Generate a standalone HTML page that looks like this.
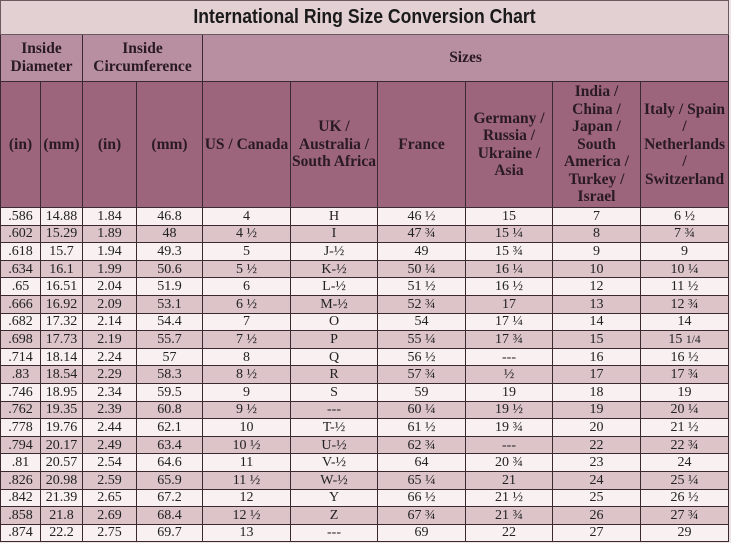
<!DOCTYPE html>
<html><head><meta charset="utf-8"><style>
html,body{margin:0;padding:0;width:731px;height:543px;overflow:hidden;background:#ece4e6}
table{position:absolute;left:0;top:0;border-collapse:collapse;table-layout:fixed;width:728px;font-family:"Liberation Serif",serif;font-size:14px;color:#222}
td{border:1px solid #3a2a30;text-align:center;padding:0;overflow:hidden;white-space:nowrap}
.t td{height:33px;background:#e3d0d3;font-family:"Liberation Sans",sans-serif;font-weight:bold;font-size:20px;color:#1a1a1a;border-color:#6a5a60}
.t span{display:inline-block;transform:scaleX(0.88)}
.h1 td{height:46px;background:#b78fa1;font-weight:bold;font-size:15.5px;line-height:18px;color:#2a1a22}
.h2 td{height:125px;background:#9c657b;font-weight:bold;font-size:15.5px;line-height:17.5px;color:#2a1a22;white-space:normal}
.d td{height:16.6px;line-height:15px}
.d:nth-child(even) td{background:#f8f0f1}
.d:nth-child(odd) td{background:#dcc4c9}
</style></head><body>
<table>
<colgroup><col style="width:40px"><col style="width:42px"><col style="width:54px"><col style="width:66px"><col style="width:88px"><col style="width:87px"><col style="width:88px"><col style="width:87px"><col style="width:88px"><col style="width:88px"></colgroup>
<tbody>
<tr class="t"><td colspan="10"><span>International Ring Size Conversion Chart</span></td></tr>
<tr class="h1"><td colspan="2">Inside<br>Diameter</td><td colspan="2">Inside<br>Circumference</td><td colspan="6">Sizes</td></tr>
<tr class="h2"><td>(in)</td><td>(mm)</td><td>(in)</td><td>(mm)</td><td style="white-space:nowrap">US / Canada</td><td>UK /<br>Australia /<br>South Africa</td><td>France</td><td>Germany /<br>Russia /<br>Ukraine /<br>Asia</td><td>India /<br>China /<br>Japan /<br>South<br>America /<br>Turkey /<br>Israel</td><td>Italy / Spain<br>/<br>Netherlands<br>/<br>Switzerland</td></tr>
<tr class="d"><td>.586</td><td>14.88</td><td>1.84</td><td>46.8</td><td>4</td><td>H</td><td>46 ½</td><td>15</td><td>7</td><td>6 ½</td></tr>
<tr class="d"><td>.602</td><td>15.29</td><td>1.89</td><td>48</td><td>4 ½</td><td>I</td><td>47 ¾</td><td>15 ¼</td><td>8</td><td>7 ¾</td></tr>
<tr class="d"><td>.618</td><td>15.7</td><td>1.94</td><td>49.3</td><td>5</td><td>J-½</td><td>49</td><td>15 ¾</td><td>9</td><td>9</td></tr>
<tr class="d"><td>.634</td><td>16.1</td><td>1.99</td><td>50.6</td><td>5 ½</td><td>K-½</td><td>50 ¼</td><td>16 ¼</td><td>10</td><td>10 ¼</td></tr>
<tr class="d"><td>.65</td><td>16.51</td><td>2.04</td><td>51.9</td><td>6</td><td>L-½</td><td>51 ½</td><td>16 ½</td><td>12</td><td>11 ½</td></tr>
<tr class="d"><td>.666</td><td>16.92</td><td>2.09</td><td>53.1</td><td>6 ½</td><td>M-½</td><td>52 ¾</td><td>17</td><td>13</td><td>12 ¾</td></tr>
<tr class="d"><td>.682</td><td>17.32</td><td>2.14</td><td>54.4</td><td>7</td><td>O</td><td>54</td><td>17 ¼</td><td>14</td><td>14</td></tr>
<tr class="d"><td>.698</td><td>17.73</td><td>2.19</td><td>55.7</td><td>7 ½</td><td>P</td><td>55 ¼</td><td>17 ¾</td><td>15</td><td>15 <small>1/4</small></td></tr>
<tr class="d"><td>.714</td><td>18.14</td><td>2.24</td><td>57</td><td>8</td><td>Q</td><td>56 ½</td><td>---</td><td>16</td><td>16 ½</td></tr>
<tr class="d"><td>.83</td><td>18.54</td><td>2.29</td><td>58.3</td><td>8 ½</td><td>R</td><td>57 ¾</td><td>½</td><td>17</td><td>17 ¾</td></tr>
<tr class="d"><td>.746</td><td>18.95</td><td>2.34</td><td>59.5</td><td>9</td><td>S</td><td>59</td><td>19</td><td>18</td><td>19</td></tr>
<tr class="d"><td>.762</td><td>19.35</td><td>2.39</td><td>60.8</td><td>9 ½</td><td>---</td><td>60 ¼</td><td>19 ½</td><td>19</td><td>20 ¼</td></tr>
<tr class="d"><td>.778</td><td>19.76</td><td>2.44</td><td>62.1</td><td>10</td><td>T-½</td><td>61 ½</td><td>19 ¾</td><td>20</td><td>21 ½</td></tr>
<tr class="d"><td>.794</td><td>20.17</td><td>2.49</td><td>63.4</td><td>10 ½</td><td>U-½</td><td>62 ¾</td><td>---</td><td>22</td><td>22 ¾</td></tr>
<tr class="d"><td>.81</td><td>20.57</td><td>2.54</td><td>64.6</td><td>11</td><td>V-½</td><td>64</td><td>20 ¾</td><td>23</td><td>24</td></tr>
<tr class="d"><td>.826</td><td>20.98</td><td>2.59</td><td>65.9</td><td>11 ½</td><td>W-½</td><td>65 ¼</td><td>21</td><td>24</td><td>25 ¼</td></tr>
<tr class="d"><td>.842</td><td>21.39</td><td>2.65</td><td>67.2</td><td>12</td><td>Y</td><td>66 ½</td><td>21 ½</td><td>25</td><td>26 ½</td></tr>
<tr class="d"><td>.858</td><td>21.8</td><td>2.69</td><td>68.4</td><td>12 ½</td><td>Z</td><td>67 ¾</td><td>21 ¾</td><td>26</td><td>27 ¾</td></tr>
<tr class="d"><td>.874</td><td>22.2</td><td>2.75</td><td>69.7</td><td>13</td><td>---</td><td>69</td><td>22</td><td>27</td><td>29</td></tr>
</tbody></table>
</body></html>
